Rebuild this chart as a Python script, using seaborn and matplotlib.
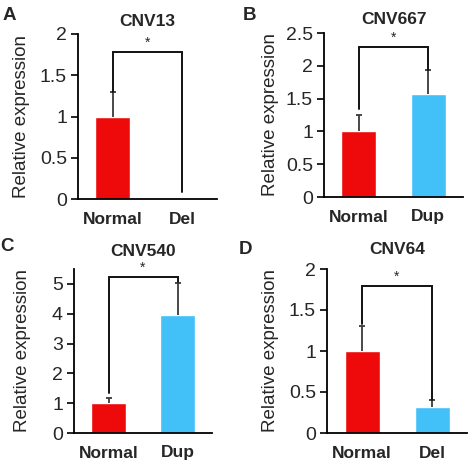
import matplotlib
matplotlib.use("Agg")
import matplotlib.pyplot as plt
import seaborn as sns

sns.set_theme(style="ticks")
plt.rcParams["font.family"] = ["Liberation Sans", "DejaVu Sans"]

# data
titles = ["CNV13", "CNV667", "CNV540", "CNV64"]
letters = ["A", "B", "C", "D"]
groups = [["Normal", "Del"], ["Normal", "Dup"], ["Normal", "Dup"], ["Normal", "Del"]]
means = [[1.0, 0.0], [1.0, 1.57], [1.0, 3.97], [1.0, 0.32]]
errs = [[0.30, 0.0], [0.25, 0.36], [0.17, 1.07], [0.30, 0.08]]
bracket_top = [1.78, 2.29, 5.24, 1.79]
bracket_left = [1.30, 1.34, 1.34, 1.33]
bracket_right = [0.08, 1.94, 5.05, 0.40]
ymax = [2, 2.5, 5.5, 2]
yticks = [[0, 0.5, 1, 1.5, 2], [0, 0.5, 1, 1.5, 2, 2.5], [0, 1, 2, 3, 4, 5], [0, 0.5, 1, 1.5, 2]]

red = "#EE0A0A"
blue = "#42C0F8"

W = 474
fig = plt.figure(figsize=(4.74, 4.74), dpi=100)

# axes boxes in pixels: left, right, top, bottom
boxes = [(78, 217, 34, 199), (324, 463, 33, 197), (74, 212, 269, 433), (327, 467, 269, 433)]
label_x = [-0.345, -0.324, -0.31, -0.343]
letter_pos = [(3, 15), (243, 15), (0, 247), (239, 249)]
title_y = [21, 20, 252, 249]

for i in range(4):
    l, r, t, b = boxes[i]
    ax = fig.add_axes([l / W, (W - b) / W, (r - l) / W, (b - t) / W])
    sns.barplot(x=groups[i], y=means[i], hue=groups[i], palette=[red, blue],
                width=0.5, legend=False, ax=ax, saturation=1)
    # upper-only error bars
    for j in range(2):
        if errs[i][j] > 0:
            top = means[i][j] + errs[i][j]
            ax.vlines(j, means[i][j], top, color="#3a3a3a", lw=1.3)
            ax.plot([j], [top], marker="_", ms=5, mew=1.3, color="#3a3a3a")
    bt = bracket_top[i]
    ax.plot([0, 0, 1, 1], [bracket_left[i], bt, bt, bracket_right[i]],
            color="#111111", lw=1.4, solid_joinstyle="miter")
    ax.text(0.5, bt + ymax[i] * 0.015, "*", ha="center", va="bottom", fontsize=10)

    ax.set_xlim(-0.5, 1.5)
    ax.set_ylim(0, ymax[i])
    ax.set_yticks(yticks[i])
    ax.set_yticklabels([f"{v:g}" for v in yticks[i]], fontsize=14)
    ax.tick_params(axis="y", length=5, width=1.2, pad=3, color="black")
    ax.tick_params(axis="x", length=0, pad=9)
    for lab in ax.get_xticklabels():
        lab.set_fontsize(12.5)
        lab.set_fontweight("bold")
    sns.despine(ax=ax)
    for s in ["left", "bottom"]:
        ax.spines[s].set_linewidth(1.3)
        ax.spines[s].set_color("black")
    ax.set_ylabel("Relative expression", fontsize=13.5)
    ax.yaxis.set_label_coords(label_x[i], 0.5)
    ax.set_xlabel("")

    fig.text((l + r) / 2 / W, 1 - title_y[i] / W, titles[i], ha="center", va="center",
             fontsize=12.5, fontweight="bold")
    lx, ly = letter_pos[i]
    fig.text(lx / W, 1 - ly / W, letters[i], ha="left", va="center",
             fontsize=13.5, fontweight="bold")

fig.savefig("out.png", dpi=100, facecolor="white")
